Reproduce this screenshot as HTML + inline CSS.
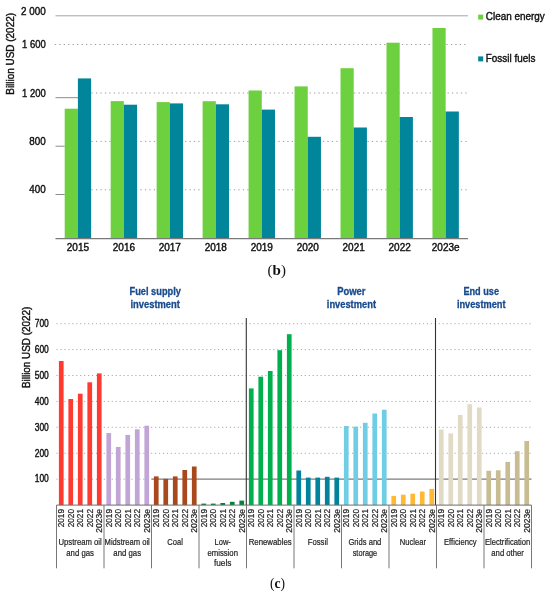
<!DOCTYPE html><html><head><meta charset="utf-8"><title>Investment charts</title>
<style>html,body{margin:0;padding:0;background:#fff}svg{display:block}text{font-family:"Liberation Sans",Arial,sans-serif;fill:#111;stroke:#111;stroke-width:0.4px}.ser{font-family:"Liberation Serif","DejaVu Serif",serif;fill:#111;stroke:none}.sm{fill:#222;stroke:#222;stroke-width:0.2px}.hd{font-weight:bold;fill:#184a8c;stroke:#184a8c;stroke-width:0.3px}</style></head><body>
<svg width="550" height="597" viewBox="0 0 550 597">
<rect width="550" height="597" fill="#fff"/>
<line x1="55.5" y1="15.8" x2="468" y2="15.8" stroke="#a6a6a6" stroke-width="1"/>
<line x1="54.8" y1="44.5" x2="468" y2="44.5" stroke="#9c9c9c" stroke-width="1" stroke-dasharray="1.3 3.15"/>
<line x1="91.5" y1="93.0" x2="468" y2="93.0" stroke="#9c9c9c" stroke-width="1" stroke-dasharray="1.3 3.15"/>
<line x1="91.5" y1="141.4" x2="468" y2="141.4" stroke="#9c9c9c" stroke-width="1" stroke-dasharray="1.3 3.15"/>
<line x1="91.5" y1="189.8" x2="468" y2="189.8" stroke="#9c9c9c" stroke-width="1" stroke-dasharray="1.3 3.15"/>
<line x1="55.5" y1="97.7" x2="78" y2="97.7" stroke="#8c8c8c" stroke-width="1"/>
<line x1="55.5" y1="146.2" x2="64.7" y2="146.2" stroke="#8c8c8c" stroke-width="1"/>
<line x1="55.5" y1="194.5" x2="64.7" y2="194.5" stroke="#8c8c8c" stroke-width="1"/>
<rect x="64.70" y="108.7" width="13.2" height="130.00" fill="#6dd13f"/>
<rect x="77.90" y="78.4" width="13.2" height="160.30" fill="#00859b"/>
<rect x="110.67" y="101.1" width="13.2" height="137.60" fill="#6dd13f"/>
<rect x="123.87" y="104.7" width="13.2" height="134.00" fill="#00859b"/>
<rect x="156.64" y="102.1" width="13.2" height="136.60" fill="#6dd13f"/>
<rect x="169.84" y="103.4" width="13.2" height="135.30" fill="#00859b"/>
<rect x="202.61" y="101.2" width="13.2" height="137.50" fill="#6dd13f"/>
<rect x="215.81" y="104.3" width="13.2" height="134.40" fill="#00859b"/>
<rect x="248.58" y="90.5" width="13.2" height="148.20" fill="#6dd13f"/>
<rect x="261.78" y="109.6" width="13.2" height="129.10" fill="#00859b"/>
<rect x="294.55" y="86.4" width="13.2" height="152.30" fill="#6dd13f"/>
<rect x="307.75" y="136.8" width="13.2" height="101.90" fill="#00859b"/>
<rect x="340.52" y="68.2" width="13.2" height="170.50" fill="#6dd13f"/>
<rect x="353.72" y="127.5" width="13.2" height="111.20" fill="#00859b"/>
<rect x="386.49" y="42.7" width="13.2" height="196.00" fill="#6dd13f"/>
<rect x="399.69" y="117" width="13.2" height="121.70" fill="#00859b"/>
<rect x="432.46" y="28" width="13.2" height="210.70" fill="#6dd13f"/>
<rect x="445.66" y="111.5" width="13.2" height="127.20" fill="#00859b"/>
<line x1="55.5" y1="238.7" x2="468" y2="238.7" stroke="#7a7a7a" stroke-width="1.3"/>
<text x="77.9" y="251" font-size="10" text-anchor="middle" >2015</text>
<text x="123.9" y="251" font-size="10" text-anchor="middle" >2016</text>
<text x="169.8" y="251" font-size="10" text-anchor="middle" >2017</text>
<text x="215.8" y="251" font-size="10" text-anchor="middle" >2018</text>
<text x="261.8" y="251" font-size="10" text-anchor="middle" >2019</text>
<text x="307.8" y="251" font-size="10" text-anchor="middle" >2020</text>
<text x="353.7" y="251" font-size="10" text-anchor="middle" >2021</text>
<text x="399.7" y="251" font-size="10" text-anchor="middle" >2022</text>
<text x="445.7" y="251" font-size="10" text-anchor="middle" >2023e</text>
<text x="45.7" y="14.7" font-size="10.3" text-anchor="end" textLength="24.7" lengthAdjust="spacingAndGlyphs" >2 000</text>
<text x="45.7" y="48.2" font-size="10.3" text-anchor="end" textLength="23.7" lengthAdjust="spacingAndGlyphs" >1 600</text>
<text x="45.7" y="96.8" font-size="10.3" text-anchor="end" textLength="23.7" lengthAdjust="spacingAndGlyphs" >1 200</text>
<text x="45.7" y="144.5" font-size="10.3" text-anchor="end" textLength="16.4" lengthAdjust="spacingAndGlyphs" >800</text>
<text x="45.7" y="192.9" font-size="10.3" text-anchor="end" textLength="16.4" lengthAdjust="spacingAndGlyphs" >400</text>
<text x="13.9" y="94.7" font-size="10.3" text-anchor="start" textLength="81.7" lengthAdjust="spacingAndGlyphs" transform="rotate(-90 13.9 94.7)" >Billion USD (2022)</text>
<rect x="478.2" y="14.6" width="5" height="5" fill="#6dd13f"/>
<text x="485.8" y="19.8" font-size="10.5" text-anchor="start" textLength="59" lengthAdjust="spacingAndGlyphs" >Clean energy</text>
<rect x="478.2" y="56.4" width="5" height="5" fill="#00859b"/>
<text x="485.8" y="61.8" font-size="10.5" text-anchor="start" textLength="49.6" lengthAdjust="spacingAndGlyphs" >Fossil fuels</text>
<text x="276.8" y="275" font-size="14.5" text-anchor="middle" textLength="18.4" lengthAdjust="spacingAndGlyphs" class="ser" >(<tspan font-weight="bold">b</tspan>)</text>
<line x1="56.5" y1="323.7" x2="531.5" y2="323.7" stroke="#aaaaaa" stroke-width="1" stroke-dasharray="1.2 2.74"/>
<line x1="56.5" y1="349.6" x2="531.5" y2="349.6" stroke="#aaaaaa" stroke-width="1" stroke-dasharray="1.2 2.74"/>
<line x1="56.5" y1="375.5" x2="531.5" y2="375.5" stroke="#aaaaaa" stroke-width="1" stroke-dasharray="1.2 2.74"/>
<line x1="56.5" y1="401.4" x2="531.5" y2="401.4" stroke="#aaaaaa" stroke-width="1" stroke-dasharray="1.2 2.74"/>
<line x1="56.5" y1="427.3" x2="531.5" y2="427.3" stroke="#aaaaaa" stroke-width="1" stroke-dasharray="1.2 2.74"/>
<line x1="56.5" y1="453.3" x2="531.5" y2="453.3" stroke="#aaaaaa" stroke-width="1" stroke-dasharray="1.2 2.74"/>
<line x1="56.5" y1="479.2" x2="151.5" y2="479.2" stroke="#aaaaaa" stroke-width="1" stroke-dasharray="1.2 2.74"/>
<line x1="151.5" y1="479.2" x2="531.5" y2="479.2" stroke="#7c7c7c" stroke-width="1.2"/>
<rect x="58.90" y="361" width="4.7" height="144.10" fill="#ff3a30"/>
<rect x="68.40" y="399" width="4.7" height="106.10" fill="#ff3a30"/>
<rect x="77.90" y="393.7" width="4.7" height="111.40" fill="#ff3a30"/>
<rect x="87.40" y="382.3" width="4.7" height="122.80" fill="#ff3a30"/>
<rect x="96.90" y="373.4" width="4.7" height="131.70" fill="#ff3a30"/>
<rect x="106.40" y="433" width="4.7" height="72.10" fill="#c0a5d6"/>
<rect x="115.90" y="447" width="4.7" height="58.10" fill="#c0a5d6"/>
<rect x="125.40" y="434.9" width="4.7" height="70.20" fill="#c0a5d6"/>
<rect x="134.90" y="429.3" width="4.7" height="75.80" fill="#c0a5d6"/>
<rect x="144.40" y="425.7" width="4.7" height="79.40" fill="#c0a5d6"/>
<rect x="153.90" y="476.4" width="4.7" height="28.70" fill="#a9481c"/>
<rect x="163.40" y="478.9" width="4.7" height="26.20" fill="#a9481c"/>
<rect x="172.90" y="476.4" width="4.7" height="28.70" fill="#a9481c"/>
<rect x="182.40" y="470" width="4.7" height="35.10" fill="#a9481c"/>
<rect x="191.90" y="466.5" width="4.7" height="38.60" fill="#a9481c"/>
<rect x="201.40" y="503.6" width="4.7" height="1.50" fill="#00843b"/>
<rect x="210.90" y="503.6" width="4.7" height="1.50" fill="#00843b"/>
<rect x="220.40" y="503" width="4.7" height="2.10" fill="#00843b"/>
<rect x="229.90" y="501.8" width="4.7" height="3.30" fill="#00843b"/>
<rect x="239.40" y="500.6" width="4.7" height="4.50" fill="#00843b"/>
<rect x="248.90" y="388.4" width="4.7" height="116.70" fill="#00b04e"/>
<rect x="258.40" y="376.7" width="4.7" height="128.40" fill="#00b04e"/>
<rect x="267.90" y="371" width="4.7" height="134.10" fill="#00b04e"/>
<rect x="277.40" y="350.2" width="4.7" height="154.90" fill="#00b04e"/>
<rect x="286.90" y="334.2" width="4.7" height="170.90" fill="#00b04e"/>
<rect x="296.40" y="470.5" width="4.7" height="34.60" fill="#00839b"/>
<rect x="305.90" y="477.6" width="4.7" height="27.50" fill="#00839b"/>
<rect x="315.40" y="477.6" width="4.7" height="27.50" fill="#00839b"/>
<rect x="324.90" y="476.8" width="4.7" height="28.30" fill="#00839b"/>
<rect x="334.40" y="477.6" width="4.7" height="27.50" fill="#00839b"/>
<rect x="343.90" y="426" width="4.7" height="79.10" fill="#70cde4"/>
<rect x="353.40" y="426.6" width="4.7" height="78.50" fill="#70cde4"/>
<rect x="362.90" y="422.8" width="4.7" height="82.30" fill="#70cde4"/>
<rect x="372.40" y="413.5" width="4.7" height="91.60" fill="#70cde4"/>
<rect x="381.90" y="409.7" width="4.7" height="95.40" fill="#70cde4"/>
<rect x="391.40" y="495.9" width="4.7" height="9.20" fill="#ffb935"/>
<rect x="400.90" y="494.7" width="4.7" height="10.40" fill="#ffb935"/>
<rect x="410.40" y="493.7" width="4.7" height="11.40" fill="#ffb935"/>
<rect x="419.90" y="491.5" width="4.7" height="13.60" fill="#ffb935"/>
<rect x="429.40" y="488.9" width="4.7" height="16.20" fill="#ffb935"/>
<rect x="438.90" y="429.6" width="4.7" height="75.50" fill="#e1dac5"/>
<rect x="448.40" y="433.4" width="4.7" height="71.70" fill="#e1dac5"/>
<rect x="457.90" y="414.9" width="4.7" height="90.20" fill="#e1dac5"/>
<rect x="467.40" y="404.2" width="4.7" height="100.90" fill="#e1dac5"/>
<rect x="476.90" y="407.5" width="4.7" height="97.60" fill="#e1dac5"/>
<rect x="486.40" y="470.8" width="4.7" height="34.30" fill="#c8bc92"/>
<rect x="495.90" y="470.3" width="4.7" height="34.80" fill="#c8bc92"/>
<rect x="505.40" y="461.9" width="4.7" height="43.20" fill="#c8bc92"/>
<rect x="514.90" y="451.2" width="4.7" height="53.90" fill="#c8bc92"/>
<rect x="524.40" y="441" width="4.7" height="64.10" fill="#c8bc92"/>
<line x1="56.5" y1="505.1" x2="531.5" y2="505.1" stroke="#6e6e6e" stroke-width="1"/>
<line x1="56.50" y1="505.1" x2="56.50" y2="568.3" stroke="#777" stroke-width="1"/>
<line x1="104.00" y1="505.1" x2="104.00" y2="568.3" stroke="#777" stroke-width="1"/>
<line x1="151.50" y1="505.1" x2="151.50" y2="568.3" stroke="#777" stroke-width="1"/>
<line x1="199.00" y1="505.1" x2="199.00" y2="568.3" stroke="#777" stroke-width="1"/>
<line x1="246.50" y1="505.1" x2="246.50" y2="568.3" stroke="#777" stroke-width="1"/>
<line x1="294.00" y1="505.1" x2="294.00" y2="568.3" stroke="#777" stroke-width="1"/>
<line x1="341.50" y1="505.1" x2="341.50" y2="568.3" stroke="#777" stroke-width="1"/>
<line x1="389.00" y1="505.1" x2="389.00" y2="568.3" stroke="#777" stroke-width="1"/>
<line x1="436.50" y1="505.1" x2="436.50" y2="568.3" stroke="#777" stroke-width="1"/>
<line x1="484.00" y1="505.1" x2="484.00" y2="568.3" stroke="#777" stroke-width="1"/>
<line x1="531.50" y1="505.1" x2="531.50" y2="568.3" stroke="#777" stroke-width="1"/>
<line x1="246.3" y1="318" x2="246.3" y2="505.1" stroke="#333" stroke-width="1.1"/>
<line x1="435.5" y1="318" x2="435.5" y2="505.1" stroke="#333" stroke-width="1.1"/>
<text class="sm" font-size="8.4" text-anchor="end" textLength="18.3" lengthAdjust="spacingAndGlyphs" transform="translate(64.25 509) rotate(-90)">2019</text>
<text class="sm" font-size="8.4" text-anchor="end" textLength="18.3" lengthAdjust="spacingAndGlyphs" transform="translate(73.75 509) rotate(-90)">2020</text>
<text class="sm" font-size="8.4" text-anchor="end" textLength="18.3" lengthAdjust="spacingAndGlyphs" transform="translate(83.25 509) rotate(-90)">2021</text>
<text class="sm" font-size="8.4" text-anchor="end" textLength="18.3" lengthAdjust="spacingAndGlyphs" transform="translate(92.75 509) rotate(-90)">2022</text>
<text class="sm" font-size="8.4" text-anchor="end" textLength="23.8" lengthAdjust="spacingAndGlyphs" transform="translate(102.25 509) rotate(-90)">2023e</text>
<text class="sm" font-size="8.4" text-anchor="end" textLength="18.3" lengthAdjust="spacingAndGlyphs" transform="translate(111.75 509) rotate(-90)">2019</text>
<text class="sm" font-size="8.4" text-anchor="end" textLength="18.3" lengthAdjust="spacingAndGlyphs" transform="translate(121.25 509) rotate(-90)">2020</text>
<text class="sm" font-size="8.4" text-anchor="end" textLength="18.3" lengthAdjust="spacingAndGlyphs" transform="translate(130.75 509) rotate(-90)">2021</text>
<text class="sm" font-size="8.4" text-anchor="end" textLength="18.3" lengthAdjust="spacingAndGlyphs" transform="translate(140.25 509) rotate(-90)">2022</text>
<text class="sm" font-size="8.4" text-anchor="end" textLength="23.8" lengthAdjust="spacingAndGlyphs" transform="translate(149.75 509) rotate(-90)">2023e</text>
<text class="sm" font-size="8.4" text-anchor="end" textLength="18.3" lengthAdjust="spacingAndGlyphs" transform="translate(159.25 509) rotate(-90)">2019</text>
<text class="sm" font-size="8.4" text-anchor="end" textLength="18.3" lengthAdjust="spacingAndGlyphs" transform="translate(168.75 509) rotate(-90)">2020</text>
<text class="sm" font-size="8.4" text-anchor="end" textLength="18.3" lengthAdjust="spacingAndGlyphs" transform="translate(178.25 509) rotate(-90)">2021</text>
<text class="sm" font-size="8.4" text-anchor="end" textLength="18.3" lengthAdjust="spacingAndGlyphs" transform="translate(187.75 509) rotate(-90)">2022</text>
<text class="sm" font-size="8.4" text-anchor="end" textLength="23.8" lengthAdjust="spacingAndGlyphs" transform="translate(197.25 509) rotate(-90)">2023e</text>
<text class="sm" font-size="8.4" text-anchor="end" textLength="18.3" lengthAdjust="spacingAndGlyphs" transform="translate(206.75 509) rotate(-90)">2019</text>
<text class="sm" font-size="8.4" text-anchor="end" textLength="18.3" lengthAdjust="spacingAndGlyphs" transform="translate(216.25 509) rotate(-90)">2020</text>
<text class="sm" font-size="8.4" text-anchor="end" textLength="18.3" lengthAdjust="spacingAndGlyphs" transform="translate(225.75 509) rotate(-90)">2021</text>
<text class="sm" font-size="8.4" text-anchor="end" textLength="18.3" lengthAdjust="spacingAndGlyphs" transform="translate(235.25 509) rotate(-90)">2022</text>
<text class="sm" font-size="8.4" text-anchor="end" textLength="23.8" lengthAdjust="spacingAndGlyphs" transform="translate(244.75 509) rotate(-90)">2023e</text>
<text class="sm" font-size="8.4" text-anchor="end" textLength="18.3" lengthAdjust="spacingAndGlyphs" transform="translate(254.25 509) rotate(-90)">2019</text>
<text class="sm" font-size="8.4" text-anchor="end" textLength="18.3" lengthAdjust="spacingAndGlyphs" transform="translate(263.75 509) rotate(-90)">2020</text>
<text class="sm" font-size="8.4" text-anchor="end" textLength="18.3" lengthAdjust="spacingAndGlyphs" transform="translate(273.25 509) rotate(-90)">2021</text>
<text class="sm" font-size="8.4" text-anchor="end" textLength="18.3" lengthAdjust="spacingAndGlyphs" transform="translate(282.75 509) rotate(-90)">2022</text>
<text class="sm" font-size="8.4" text-anchor="end" textLength="23.8" lengthAdjust="spacingAndGlyphs" transform="translate(292.25 509) rotate(-90)">2023e</text>
<text class="sm" font-size="8.4" text-anchor="end" textLength="18.3" lengthAdjust="spacingAndGlyphs" transform="translate(301.75 509) rotate(-90)">2019</text>
<text class="sm" font-size="8.4" text-anchor="end" textLength="18.3" lengthAdjust="spacingAndGlyphs" transform="translate(311.25 509) rotate(-90)">2020</text>
<text class="sm" font-size="8.4" text-anchor="end" textLength="18.3" lengthAdjust="spacingAndGlyphs" transform="translate(320.75 509) rotate(-90)">2021</text>
<text class="sm" font-size="8.4" text-anchor="end" textLength="18.3" lengthAdjust="spacingAndGlyphs" transform="translate(330.25 509) rotate(-90)">2022</text>
<text class="sm" font-size="8.4" text-anchor="end" textLength="23.8" lengthAdjust="spacingAndGlyphs" transform="translate(339.75 509) rotate(-90)">2023e</text>
<text class="sm" font-size="8.4" text-anchor="end" textLength="18.3" lengthAdjust="spacingAndGlyphs" transform="translate(349.25 509) rotate(-90)">2019</text>
<text class="sm" font-size="8.4" text-anchor="end" textLength="18.3" lengthAdjust="spacingAndGlyphs" transform="translate(358.75 509) rotate(-90)">2020</text>
<text class="sm" font-size="8.4" text-anchor="end" textLength="18.3" lengthAdjust="spacingAndGlyphs" transform="translate(368.25 509) rotate(-90)">2021</text>
<text class="sm" font-size="8.4" text-anchor="end" textLength="18.3" lengthAdjust="spacingAndGlyphs" transform="translate(377.75 509) rotate(-90)">2022</text>
<text class="sm" font-size="8.4" text-anchor="end" textLength="23.8" lengthAdjust="spacingAndGlyphs" transform="translate(387.25 509) rotate(-90)">2023e</text>
<text class="sm" font-size="8.4" text-anchor="end" textLength="18.3" lengthAdjust="spacingAndGlyphs" transform="translate(396.75 509) rotate(-90)">2019</text>
<text class="sm" font-size="8.4" text-anchor="end" textLength="18.3" lengthAdjust="spacingAndGlyphs" transform="translate(406.25 509) rotate(-90)">2020</text>
<text class="sm" font-size="8.4" text-anchor="end" textLength="18.3" lengthAdjust="spacingAndGlyphs" transform="translate(415.75 509) rotate(-90)">2021</text>
<text class="sm" font-size="8.4" text-anchor="end" textLength="18.3" lengthAdjust="spacingAndGlyphs" transform="translate(425.25 509) rotate(-90)">2022</text>
<text class="sm" font-size="8.4" text-anchor="end" textLength="23.8" lengthAdjust="spacingAndGlyphs" transform="translate(434.75 509) rotate(-90)">2023e</text>
<text class="sm" font-size="8.4" text-anchor="end" textLength="18.3" lengthAdjust="spacingAndGlyphs" transform="translate(444.25 509) rotate(-90)">2019</text>
<text class="sm" font-size="8.4" text-anchor="end" textLength="18.3" lengthAdjust="spacingAndGlyphs" transform="translate(453.75 509) rotate(-90)">2020</text>
<text class="sm" font-size="8.4" text-anchor="end" textLength="18.3" lengthAdjust="spacingAndGlyphs" transform="translate(463.25 509) rotate(-90)">2021</text>
<text class="sm" font-size="8.4" text-anchor="end" textLength="18.3" lengthAdjust="spacingAndGlyphs" transform="translate(472.75 509) rotate(-90)">2022</text>
<text class="sm" font-size="8.4" text-anchor="end" textLength="23.8" lengthAdjust="spacingAndGlyphs" transform="translate(482.25 509) rotate(-90)">2023e</text>
<text class="sm" font-size="8.4" text-anchor="end" textLength="18.3" lengthAdjust="spacingAndGlyphs" transform="translate(491.75 509) rotate(-90)">2019</text>
<text class="sm" font-size="8.4" text-anchor="end" textLength="18.3" lengthAdjust="spacingAndGlyphs" transform="translate(501.25 509) rotate(-90)">2020</text>
<text class="sm" font-size="8.4" text-anchor="end" textLength="18.3" lengthAdjust="spacingAndGlyphs" transform="translate(510.75 509) rotate(-90)">2021</text>
<text class="sm" font-size="8.4" text-anchor="end" textLength="18.3" lengthAdjust="spacingAndGlyphs" transform="translate(520.25 509) rotate(-90)">2022</text>
<text class="sm" font-size="8.4" text-anchor="end" textLength="23.8" lengthAdjust="spacingAndGlyphs" transform="translate(529.75 509) rotate(-90)">2023e</text>
<text x="48.8" y="326.9" font-size="10" text-anchor="end" textLength="14.1" lengthAdjust="spacingAndGlyphs" >700</text>
<text x="48.8" y="352.8" font-size="10" text-anchor="end" textLength="14.1" lengthAdjust="spacingAndGlyphs" >600</text>
<text x="48.8" y="378.7" font-size="10" text-anchor="end" textLength="14.1" lengthAdjust="spacingAndGlyphs" >500</text>
<text x="48.8" y="404.6" font-size="10" text-anchor="end" textLength="14.1" lengthAdjust="spacingAndGlyphs" >400</text>
<text x="48.8" y="430.5" font-size="10" text-anchor="end" textLength="14.1" lengthAdjust="spacingAndGlyphs" >300</text>
<text x="48.8" y="456.5" font-size="10" text-anchor="end" textLength="14.1" lengthAdjust="spacingAndGlyphs" >200</text>
<text x="48.8" y="482.4" font-size="10" text-anchor="end" textLength="14.1" lengthAdjust="spacingAndGlyphs" >100</text>
<text x="30.4" y="388" font-size="10.3" text-anchor="start" textLength="81.3" lengthAdjust="spacingAndGlyphs" transform="rotate(-90 30.4 388)" >Billion USD (2022)</text>
<text x="80.1" y="545.4" font-size="9.0" text-anchor="middle" textLength="43.2" lengthAdjust="spacingAndGlyphs" class="sm" >Upstream oil</text>
<text x="80.1" y="555.8" font-size="9.0" text-anchor="middle" textLength="27.7" lengthAdjust="spacingAndGlyphs" class="sm" >and gas</text>
<text x="127.2" y="545.4" font-size="9.0" text-anchor="middle" textLength="45.2" lengthAdjust="spacingAndGlyphs" class="sm" >Midstream oil</text>
<text x="127.2" y="555.8" font-size="9.0" text-anchor="middle" textLength="27.7" lengthAdjust="spacingAndGlyphs" class="sm" >and gas</text>
<text x="175.1" y="545.4" font-size="9.0" text-anchor="middle" textLength="15.5" lengthAdjust="spacingAndGlyphs" class="sm" >Coal</text>
<text x="222.7" y="545.4" font-size="9.0" text-anchor="middle" textLength="16.3" lengthAdjust="spacingAndGlyphs" class="sm" >Low-</text>
<text x="222.7" y="555.8" font-size="9.0" text-anchor="middle" textLength="30.5" lengthAdjust="spacingAndGlyphs" class="sm" >emission</text>
<text x="222.7" y="566.2" font-size="9.0" text-anchor="middle" textLength="17.5" lengthAdjust="spacingAndGlyphs" class="sm" >fuels</text>
<text x="270.2" y="545.4" font-size="9.0" text-anchor="middle" textLength="43.1" lengthAdjust="spacingAndGlyphs" class="sm" >Renewables</text>
<text x="317.8" y="545.4" font-size="9.0" text-anchor="middle" textLength="20.1" lengthAdjust="spacingAndGlyphs" class="sm" >Fossil</text>
<text x="364.9" y="545.4" font-size="9.0" text-anchor="middle" textLength="32.9" lengthAdjust="spacingAndGlyphs" class="sm" >Grids and</text>
<text x="364.9" y="555.8" font-size="9.0" text-anchor="middle" textLength="24.4" lengthAdjust="spacingAndGlyphs" class="sm" >storage</text>
<text x="412.9" y="545.4" font-size="9.0" text-anchor="middle" textLength="26.2" lengthAdjust="spacingAndGlyphs" class="sm" >Nuclear</text>
<text x="460.3" y="545.4" font-size="9.0" text-anchor="middle" textLength="32.6" lengthAdjust="spacingAndGlyphs" class="sm" >Efficiency</text>
<text x="507.6" y="545.4" font-size="9.0" text-anchor="middle" textLength="45.4" lengthAdjust="spacingAndGlyphs" class="sm" >Electrification</text>
<text x="507.6" y="555.8" font-size="9.0" text-anchor="middle" textLength="32.6" lengthAdjust="spacingAndGlyphs" class="sm" >and other</text>
<text x="155.2" y="295.3" font-size="10.2" text-anchor="middle" textLength="51.4" lengthAdjust="spacingAndGlyphs" class="hd" >Fuel supply</text>
<text x="155.2" y="308.1" font-size="10.2" text-anchor="middle" textLength="49.5" lengthAdjust="spacingAndGlyphs" class="hd" >investment</text>
<text x="351.4" y="295.3" font-size="10.2" text-anchor="middle" textLength="28.2" lengthAdjust="spacingAndGlyphs" class="hd" >Power</text>
<text x="351.4" y="308.1" font-size="10.2" text-anchor="middle" textLength="49.2" lengthAdjust="spacingAndGlyphs" class="hd" >investment</text>
<text x="481.2" y="295.3" font-size="10.2" text-anchor="middle" textLength="35.6" lengthAdjust="spacingAndGlyphs" class="hd" >End use</text>
<text x="481.2" y="308.1" font-size="10.2" text-anchor="middle" textLength="48.6" lengthAdjust="spacingAndGlyphs" class="hd" >investment</text>
<text x="277.6" y="588.0" font-size="14.5" text-anchor="middle" textLength="15.1" lengthAdjust="spacingAndGlyphs" class="ser" >(<tspan font-weight="bold">c</tspan>)</text>
</svg></body></html>
